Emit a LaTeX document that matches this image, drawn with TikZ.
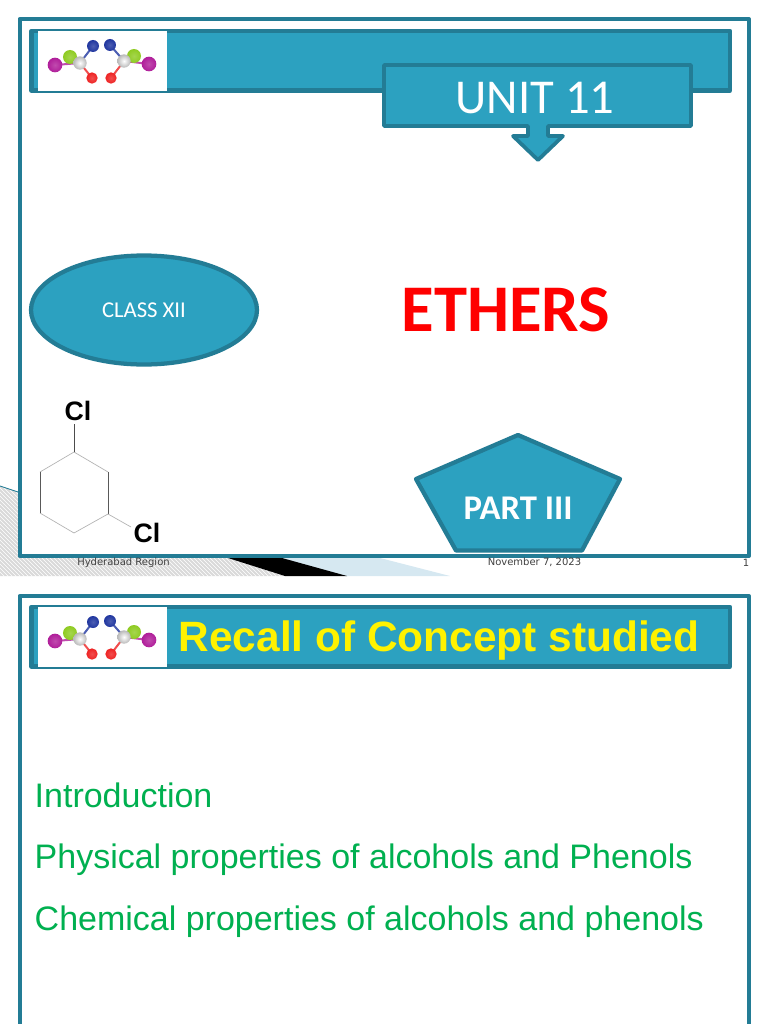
\documentclass[tikz,border=0pt]{standalone}
\usepackage{fontspec}
\setmainfont{Liberation Sans}
\newfontfamily\carlito{Carlito}
\newfontfamily\dejavu{DejaVu Sans}
\usepackage{tikz}
\usetikzlibrary{arrows,positioning,patterns,calc}
\definecolor{tealline}{HTML}{237C95}
\definecolor{tealfill}{HTML}{2CA1C0}
\definecolor{palesky}{HTML}{D6E8F1}
\definecolor{greentext}{HTML}{00B050}
\definecolor{ballmag}{HTML}{B01E9A}
\definecolor{ballgreen}{HTML}{8FCB22}
\definecolor{ballblue}{HTML}{20369F}
\definecolor{ballred}{HTML}{EE2222}
\tikzset{
  box/.style={draw=tealline, fill=tealfill, line width=3.2pt, line join=round},
  pagebox/.style={draw=tealline, fill=white, line width=3pt, line join=round},
  bond/.style={draw=gray!60, line width=.5pt},
  ball/.style={circle, inner sep=0pt, minimum width=#1, minimum height=.9*#1},
  footer/.style={font=\dejavu\fontsize{7.5}{8}\selectfont, text=black!75},
  listitem/.style={anchor=base west, font=\fontsize{25.5}{28}\selectfont, text=greentext},
  chlorine/.style={font=\bfseries\fontsize{20}{22}\selectfont}
}
\begin{document}
\begin{tikzpicture}[x=.75pt, y=-.75pt]
\path[use as bounding box] (0,0) rectangle (768,1024);
\clip (0,0) rectangle (768,1024);
% backdrop of first slide
\fill[gray!30] (0,486) -- (228,558) -- (285,576) -- (0,576) -- cycle;
\fill[pattern=north west lines, pattern color=white] (0,486) -- (228,558) -- (285,576) -- (0,576) -- cycle;
\draw[tealline, line width=.7pt] (0,486) -- (18,492);
\fill[palesky] (280,558) -- (380,558) -- (450,576) -- (345,576) -- cycle;
\fill[black] (228,558) -- (282,558) -- (347,576) -- (285,576) -- cycle;
% page frames
\draw[pagebox] (19.5,19) rectangle (749,556);
\draw[pagebox] (19.5,596) rectangle (749,1040);
% header bars, logo on each
\foreach \off in {0,576} {
\begin{scope}[yshift=-.75*\off pt]
\draw[box] (31.5,31) rectangle (730,90.5);
\fill[white] (38,31) rectangle (167,91);
\foreach \xa/\ya/\xb/\yb/\col in {80/63/55/65/ballmag, 80/63/70/57/ballgreen, 80/63/93/46/ballblue, 80/63/92/78/ballred, 124/61/149/64/ballmag, 124/61/134/56/ballgreen, 124/61/110/45/ballblue, 124/61/111/78/ballred}
  \draw[\col!80!white, line width=1.5pt] (\xa,\ya) -- (\xb,\yb);
\foreach \xx/\yy/\dia/\col in {55/65/11/ballmag, 70/57/10.5/ballgreen, 93/46/9/ballblue, 92/78/8.5/ballred, 149/64/11/ballmag, 134/56/10.5/ballgreen, 110/45/9/ballblue, 111/78/8.5/ballred}
  \node[ball=\dia pt, inner color=\col!80!white, outer color=\col] at (\xx,\yy) {};
\foreach \xx/\yy in {80/63, 124/61}
  \node[ball=10pt, inner color=white, outer color=gray!55] at (\xx,\yy) {};
\end{scope}
}
% unit callout
\draw[box, line width=2.8pt] (384,65) -- (691,65) -- (691,126) -- (548,126) -- (548,136) -- (563,136) -- (538,160) -- (513,136) -- (528,136) -- (528,126) -- (384,126) -- cycle;
\node[text=white, font=\carlito\fontsize{36.5}{40}\selectfont] (unit) at (535,98) {UNIT 11};
\draw[box] (144,310) ellipse (113 and 54.5);
\node[text=white, font=\carlito\fontsize{17}{20}\selectfont] (class) at (144,310) {CLASS XII};
\node[text=red, font=\carlito\bfseries\fontsize{50}{56}\selectfont] (ethers) at (506,310) {ETHERS};
\draw[box] (518,435) -- (620,479) -- (582,550.5) -- (456,550.5) -- (416,479) -- cycle;
\node[text=white, font=\carlito\bfseries\fontsize{26}{28}\selectfont] (part) at (518,508) {PART III};
% ring
\foreach \name/\xx/\yy in {ra/74/452, rb/108/472, rc/108/514, rd/74/533, re/40/513, rf/40/472}
  \coordinate (\name) at (\xx,\yy);
\node[chlorine] (cltop) at (78,411) {Cl};
\node[chlorine] (clbot) at (147,533) {Cl};
\foreach \a/\b in {ra/rb, rc/rd, rd/re, rf/ra}
  \draw[bond] (\a) -- (\b);
\foreach \a/\b in {rb/rc, re/rf}
  \draw[bond, draw=black!65] (\a) -- (\b);
\draw[bond, draw=black!70] (ra) -- (74,424);
\draw[bond] (rc) -- (131,527);
% footer
\node[footer] (region) at (123.5,562.5) {Hyderabad Region};
\node[footer] (date) at (534.5,562.5) {November 7, 2023};
\node[footer] (pageno) at (746,562.5) {1};
% second slide
\node[text=yellow, font=\bfseries\fontsize{31.8}{34}\selectfont] (recall) at (439,641) {Recall of Concept studied};
\node[listitem] (intro) at (30,807) {Introduction};
\node[listitem] (physical) at (30,868) {Physical properties of alcohols and Phenols};
\node[listitem] (chemical) at (30,930) {Chemical properties of alcohols and phenols};
\end{tikzpicture}
\end{document}
